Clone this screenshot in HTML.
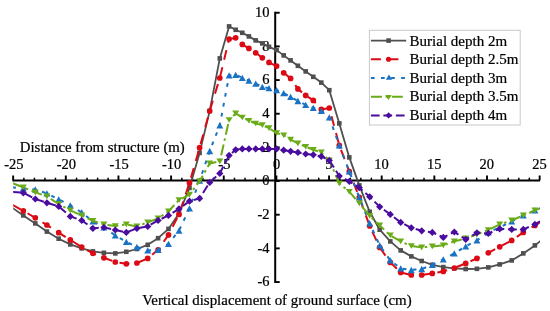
<!DOCTYPE html>
<html><head><meta charset="utf-8"><title>Vertical displacement of ground surface</title>
<style>html,body{margin:0;padding:0;background:#fff}svg{display:block}text{font-family:"Liberation Serif","Times New Roman",serif;font-size:14.5px;fill:#000;stroke:#000;stroke-width:0.22px}</style></head><body>
<svg width="550" height="311" viewBox="0 0 550 311">
<rect width="550" height="311" fill="#fff"/>
<defs><clipPath id="c"><rect x="13.20" y="0" width="526.80" height="311"/></clipPath></defs>
<g text-anchor="middle">
<text x="13.8" y="169">-25</text>
<text x="66.4" y="169">-20</text>
<text x="119.1" y="169">-15</text>
<text x="171.7" y="169">-10</text>
<text x="224.4" y="169">-5</text>
<text x="276.6" y="169">0</text>
<text x="328.9" y="169">5</text>
<text x="381.5" y="169">10</text>
<text x="434.2" y="169">15</text>
<text x="486.8" y="169">20</text>
<text x="539.5" y="169">25</text>
</g>
<g text-anchor="end">
<text x="269.6" y="286.3">-6</text>
<text x="269.6" y="252.7">-4</text>
<text x="269.6" y="219.0">-2</text>
<text x="269.6" y="185.4">0</text>
<text x="269.6" y="151.7">2</text>
<text x="269.6" y="118.0">4</text>
<text x="269.6" y="84.4">6</text>
<text x="269.6" y="50.7">8</text>
<text x="269.6" y="17.1">10</text>
</g>
<text x="19.8" y="152" textLength="165" lengthAdjust="spacingAndGlyphs">Distance from structure (m)</text>
<text x="142.2" y="305" textLength="269.5" lengthAdjust="spacingAndGlyphs">Vertical displacement of ground surface (cm)</text>
<g stroke="#000" fill="none">
<line x1="12.35" y1="180.5" x2="540.15" y2="180.5" stroke-width="2.2"/>
<line x1="275.2" y1="11.8" x2="275.2" y2="283" stroke-width="2"/>
<line x1="13.15" y1="175.5" x2="13.15" y2="180" stroke-width="1.9"/>
<line x1="23.88" y1="177.7" x2="23.88" y2="180" stroke-width="1.5"/>
<line x1="34.41" y1="177.7" x2="34.41" y2="180" stroke-width="1.5"/>
<line x1="44.94" y1="177.7" x2="44.94" y2="180" stroke-width="1.5"/>
<line x1="55.47" y1="177.7" x2="55.47" y2="180" stroke-width="1.5"/>
<line x1="65.80" y1="175.5" x2="65.80" y2="180" stroke-width="1.9"/>
<line x1="76.53" y1="177.7" x2="76.53" y2="180" stroke-width="1.5"/>
<line x1="87.06" y1="177.7" x2="87.06" y2="180" stroke-width="1.5"/>
<line x1="97.59" y1="177.7" x2="97.59" y2="180" stroke-width="1.5"/>
<line x1="108.12" y1="177.7" x2="108.12" y2="180" stroke-width="1.5"/>
<line x1="118.45" y1="175.5" x2="118.45" y2="180" stroke-width="1.9"/>
<line x1="129.18" y1="177.7" x2="129.18" y2="180" stroke-width="1.5"/>
<line x1="139.71" y1="177.7" x2="139.71" y2="180" stroke-width="1.5"/>
<line x1="150.24" y1="177.7" x2="150.24" y2="180" stroke-width="1.5"/>
<line x1="160.77" y1="177.7" x2="160.77" y2="180" stroke-width="1.5"/>
<line x1="171.10" y1="175.5" x2="171.10" y2="180" stroke-width="1.9"/>
<line x1="181.83" y1="177.7" x2="181.83" y2="180" stroke-width="1.5"/>
<line x1="192.36" y1="177.7" x2="192.36" y2="180" stroke-width="1.5"/>
<line x1="202.89" y1="177.7" x2="202.89" y2="180" stroke-width="1.5"/>
<line x1="213.42" y1="177.7" x2="213.42" y2="180" stroke-width="1.5"/>
<line x1="223.75" y1="175.5" x2="223.75" y2="180" stroke-width="1.9"/>
<line x1="234.48" y1="177.7" x2="234.48" y2="180" stroke-width="1.5"/>
<line x1="245.01" y1="177.7" x2="245.01" y2="180" stroke-width="1.5"/>
<line x1="255.54" y1="177.7" x2="255.54" y2="180" stroke-width="1.5"/>
<line x1="266.07" y1="177.7" x2="266.07" y2="180" stroke-width="1.5"/>
<line x1="276.40" y1="175.5" x2="276.40" y2="180" stroke-width="1.9"/>
<line x1="287.13" y1="177.7" x2="287.13" y2="180" stroke-width="1.5"/>
<line x1="297.66" y1="177.7" x2="297.66" y2="180" stroke-width="1.5"/>
<line x1="308.19" y1="177.7" x2="308.19" y2="180" stroke-width="1.5"/>
<line x1="318.72" y1="177.7" x2="318.72" y2="180" stroke-width="1.5"/>
<line x1="329.05" y1="175.5" x2="329.05" y2="180" stroke-width="1.9"/>
<line x1="339.78" y1="177.7" x2="339.78" y2="180" stroke-width="1.5"/>
<line x1="350.31" y1="177.7" x2="350.31" y2="180" stroke-width="1.5"/>
<line x1="360.84" y1="177.7" x2="360.84" y2="180" stroke-width="1.5"/>
<line x1="371.37" y1="177.7" x2="371.37" y2="180" stroke-width="1.5"/>
<line x1="381.70" y1="175.5" x2="381.70" y2="180" stroke-width="1.9"/>
<line x1="392.43" y1="177.7" x2="392.43" y2="180" stroke-width="1.5"/>
<line x1="402.96" y1="177.7" x2="402.96" y2="180" stroke-width="1.5"/>
<line x1="413.49" y1="177.7" x2="413.49" y2="180" stroke-width="1.5"/>
<line x1="424.02" y1="177.7" x2="424.02" y2="180" stroke-width="1.5"/>
<line x1="434.35" y1="175.5" x2="434.35" y2="180" stroke-width="1.9"/>
<line x1="445.08" y1="177.7" x2="445.08" y2="180" stroke-width="1.5"/>
<line x1="455.61" y1="177.7" x2="455.61" y2="180" stroke-width="1.5"/>
<line x1="466.14" y1="177.7" x2="466.14" y2="180" stroke-width="1.5"/>
<line x1="476.67" y1="177.7" x2="476.67" y2="180" stroke-width="1.5"/>
<line x1="487.00" y1="175.5" x2="487.00" y2="180" stroke-width="1.9"/>
<line x1="497.73" y1="177.7" x2="497.73" y2="180" stroke-width="1.5"/>
<line x1="508.26" y1="177.7" x2="508.26" y2="180" stroke-width="1.5"/>
<line x1="518.79" y1="177.7" x2="518.79" y2="180" stroke-width="1.5"/>
<line x1="529.32" y1="177.7" x2="529.32" y2="180" stroke-width="1.5"/>
<line x1="539.65" y1="175.5" x2="539.65" y2="180" stroke-width="1.9"/>
<line x1="275.5" y1="282.05" x2="279.7" y2="282.05" stroke-width="1.9"/>
<line x1="275.5" y1="248.37" x2="279.7" y2="248.37" stroke-width="1.9"/>
<line x1="275.5" y1="214.71" x2="279.7" y2="214.71" stroke-width="1.9"/>
<line x1="275.5" y1="181.05" x2="279.7" y2="181.05" stroke-width="1.9"/>
<line x1="275.5" y1="147.39" x2="279.7" y2="147.39" stroke-width="1.9"/>
<line x1="275.5" y1="113.73" x2="279.7" y2="113.73" stroke-width="1.9"/>
<line x1="275.5" y1="80.07" x2="279.7" y2="80.07" stroke-width="1.9"/>
<line x1="275.5" y1="46.41" x2="279.7" y2="46.41" stroke-width="1.9"/>
<line x1="275.5" y1="12.75" x2="279.7" y2="12.75" stroke-width="1.9"/>
</g>
<g clip-path="url(#c)">
<polyline points="12.2,207.7 23.3,215.4 35.3,223.4 46.9,231.6 58.7,238.7 70.3,244.4 81.7,248.4 92.9,251.4 103.9,252.8 115.3,253.4 126.3,251.8 136.9,249.0 147.7,244.8 158.1,238.2 168.5,228.9 179.0,213.4 189.5,187.9 199.6,152.9 209.7,110.9 219.8,58.4 229.1,26.4 235.7,29.8 242.3,32.8 248.9,36.4 255.7,40.4 262.3,43.4 269.0,46.8 276.6,50.1 283.7,55.4 290.6,60.4 297.9,65.8 305.7,71.4 313.3,76.8 321.3,82.6 329.3,90.2 339.3,123.4 349.3,157.4 359.3,185.4 369.7,211.8 379.7,229.7 390.3,241.4 400.7,250.4 411.3,256.4 421.7,261.0 432.3,264.8 443.3,267.1 454.3,268.4 465.7,269.0 476.9,268.8 488.3,267.4 499.7,264.4 511.7,260.4 523.3,253.4 534.9,245.4 541.0,240.7" fill="none" stroke="#4f4f4f" stroke-width="1.8" stroke-linejoin="round"/>
<rect x="21.00" y="213.10" width="4.60" height="4.60" fill="#4f4f4f"/>
<rect x="33.00" y="221.10" width="4.60" height="4.60" fill="#4f4f4f"/>
<rect x="44.60" y="229.30" width="4.60" height="4.60" fill="#4f4f4f"/>
<rect x="56.40" y="236.40" width="4.60" height="4.60" fill="#4f4f4f"/>
<rect x="68.00" y="242.10" width="4.60" height="4.60" fill="#4f4f4f"/>
<rect x="79.40" y="246.10" width="4.60" height="4.60" fill="#4f4f4f"/>
<rect x="90.60" y="249.10" width="4.60" height="4.60" fill="#4f4f4f"/>
<rect x="101.60" y="250.50" width="4.60" height="4.60" fill="#4f4f4f"/>
<rect x="113.00" y="251.10" width="4.60" height="4.60" fill="#4f4f4f"/>
<rect x="124.00" y="249.50" width="4.60" height="4.60" fill="#4f4f4f"/>
<rect x="134.60" y="246.70" width="4.60" height="4.60" fill="#4f4f4f"/>
<rect x="145.40" y="242.50" width="4.60" height="4.60" fill="#4f4f4f"/>
<rect x="155.80" y="235.90" width="4.60" height="4.60" fill="#4f4f4f"/>
<rect x="166.20" y="226.60" width="4.60" height="4.60" fill="#4f4f4f"/>
<rect x="176.70" y="211.10" width="4.60" height="4.60" fill="#4f4f4f"/>
<rect x="187.20" y="185.60" width="4.60" height="4.60" fill="#4f4f4f"/>
<rect x="197.30" y="150.60" width="4.60" height="4.60" fill="#4f4f4f"/>
<rect x="207.40" y="108.60" width="4.60" height="4.60" fill="#4f4f4f"/>
<rect x="217.50" y="56.10" width="4.60" height="4.60" fill="#4f4f4f"/>
<rect x="226.80" y="24.10" width="4.60" height="4.60" fill="#4f4f4f"/>
<rect x="233.40" y="27.50" width="4.60" height="4.60" fill="#4f4f4f"/>
<rect x="240.00" y="30.50" width="4.60" height="4.60" fill="#4f4f4f"/>
<rect x="246.60" y="34.10" width="4.60" height="4.60" fill="#4f4f4f"/>
<rect x="253.40" y="38.10" width="4.60" height="4.60" fill="#4f4f4f"/>
<rect x="260.00" y="41.10" width="4.60" height="4.60" fill="#4f4f4f"/>
<rect x="266.70" y="44.50" width="4.60" height="4.60" fill="#4f4f4f"/>
<rect x="274.30" y="47.80" width="4.60" height="4.60" fill="#4f4f4f"/>
<rect x="281.40" y="53.10" width="4.60" height="4.60" fill="#4f4f4f"/>
<rect x="288.30" y="58.10" width="4.60" height="4.60" fill="#4f4f4f"/>
<rect x="295.60" y="63.50" width="4.60" height="4.60" fill="#4f4f4f"/>
<rect x="303.40" y="69.10" width="4.60" height="4.60" fill="#4f4f4f"/>
<rect x="311.00" y="74.50" width="4.60" height="4.60" fill="#4f4f4f"/>
<rect x="319.00" y="80.30" width="4.60" height="4.60" fill="#4f4f4f"/>
<rect x="327.00" y="87.90" width="4.60" height="4.60" fill="#4f4f4f"/>
<rect x="337.00" y="121.10" width="4.60" height="4.60" fill="#4f4f4f"/>
<rect x="347.00" y="155.10" width="4.60" height="4.60" fill="#4f4f4f"/>
<rect x="357.00" y="183.10" width="4.60" height="4.60" fill="#4f4f4f"/>
<rect x="367.40" y="209.50" width="4.60" height="4.60" fill="#4f4f4f"/>
<rect x="377.40" y="227.40" width="4.60" height="4.60" fill="#4f4f4f"/>
<rect x="388.00" y="239.10" width="4.60" height="4.60" fill="#4f4f4f"/>
<rect x="398.40" y="248.10" width="4.60" height="4.60" fill="#4f4f4f"/>
<rect x="409.00" y="254.10" width="4.60" height="4.60" fill="#4f4f4f"/>
<rect x="419.40" y="258.70" width="4.60" height="4.60" fill="#4f4f4f"/>
<rect x="430.00" y="262.50" width="4.60" height="4.60" fill="#4f4f4f"/>
<rect x="441.00" y="264.80" width="4.60" height="4.60" fill="#4f4f4f"/>
<rect x="452.00" y="266.10" width="4.60" height="4.60" fill="#4f4f4f"/>
<rect x="463.40" y="266.70" width="4.60" height="4.60" fill="#4f4f4f"/>
<rect x="474.60" y="266.50" width="4.60" height="4.60" fill="#4f4f4f"/>
<rect x="486.00" y="265.10" width="4.60" height="4.60" fill="#4f4f4f"/>
<rect x="497.40" y="262.10" width="4.60" height="4.60" fill="#4f4f4f"/>
<rect x="509.40" y="258.10" width="4.60" height="4.60" fill="#4f4f4f"/>
<rect x="521.00" y="251.10" width="4.60" height="4.60" fill="#4f4f4f"/>
<rect x="532.60" y="243.10" width="4.60" height="4.60" fill="#4f4f4f"/>
<polyline points="12.2,204.8 23.3,210.8 35.3,217.8 46.9,225.0 58.7,232.7 70.3,239.9 81.7,247.0 92.9,253.4 103.9,257.8 115.3,262.0 126.3,263.8 136.9,263.0 147.7,258.4 158.1,249.8 168.5,234.9 179.0,214.4 189.5,182.9 199.6,147.7 209.7,111.0 219.8,78.0 229.1,39.0 235.7,37.8 242.3,44.4 248.9,48.4 255.7,52.8 262.3,57.8 269.0,62.4 276.6,66.1 283.7,72.8 290.6,78.4 297.9,88.9 305.7,95.4 313.3,100.4 321.3,109.4 329.3,108.0 339.3,145.4 349.3,171.7 359.3,197.4 369.7,226.0 379.7,247.4 390.3,262.4 400.7,272.4 411.3,275.0 421.7,275.0 432.3,273.4 443.3,271.4 454.3,268.0 465.7,263.4 476.9,258.4 488.3,252.8 499.7,246.8 511.7,240.4 523.3,232.4 534.9,225.4 541.0,221.8" fill="none" stroke="#dc0a14" stroke-width="2.0" stroke-dasharray="10 7.5" stroke-linejoin="round"/>
<circle cx="23.30" cy="210.80" r="2.85" fill="#dc0a14"/>
<circle cx="35.30" cy="217.80" r="2.85" fill="#dc0a14"/>
<circle cx="46.90" cy="225.00" r="2.85" fill="#dc0a14"/>
<circle cx="58.70" cy="232.70" r="2.85" fill="#dc0a14"/>
<circle cx="70.30" cy="239.90" r="2.85" fill="#dc0a14"/>
<circle cx="81.70" cy="247.00" r="2.85" fill="#dc0a14"/>
<circle cx="92.90" cy="253.40" r="2.85" fill="#dc0a14"/>
<circle cx="103.90" cy="257.80" r="2.85" fill="#dc0a14"/>
<circle cx="115.30" cy="262.00" r="2.85" fill="#dc0a14"/>
<circle cx="126.30" cy="263.80" r="2.85" fill="#dc0a14"/>
<circle cx="136.90" cy="263.00" r="2.85" fill="#dc0a14"/>
<circle cx="147.70" cy="258.40" r="2.85" fill="#dc0a14"/>
<circle cx="158.10" cy="249.80" r="2.85" fill="#dc0a14"/>
<circle cx="168.50" cy="234.90" r="2.85" fill="#dc0a14"/>
<circle cx="179.00" cy="214.40" r="2.85" fill="#dc0a14"/>
<circle cx="189.50" cy="182.90" r="2.85" fill="#dc0a14"/>
<circle cx="199.60" cy="147.70" r="2.85" fill="#dc0a14"/>
<circle cx="209.70" cy="111.00" r="2.85" fill="#dc0a14"/>
<circle cx="219.80" cy="78.00" r="2.85" fill="#dc0a14"/>
<circle cx="229.10" cy="39.00" r="2.85" fill="#dc0a14"/>
<circle cx="235.70" cy="37.80" r="2.85" fill="#dc0a14"/>
<circle cx="242.30" cy="44.40" r="2.85" fill="#dc0a14"/>
<circle cx="248.90" cy="48.40" r="2.85" fill="#dc0a14"/>
<circle cx="255.70" cy="52.80" r="2.85" fill="#dc0a14"/>
<circle cx="262.30" cy="57.80" r="2.85" fill="#dc0a14"/>
<circle cx="269.00" cy="62.40" r="2.85" fill="#dc0a14"/>
<circle cx="276.60" cy="66.10" r="2.85" fill="#dc0a14"/>
<circle cx="283.70" cy="72.80" r="2.85" fill="#dc0a14"/>
<circle cx="290.60" cy="78.40" r="2.85" fill="#dc0a14"/>
<circle cx="297.90" cy="88.90" r="2.85" fill="#dc0a14"/>
<circle cx="305.70" cy="95.40" r="2.85" fill="#dc0a14"/>
<circle cx="313.30" cy="100.40" r="2.85" fill="#dc0a14"/>
<circle cx="321.30" cy="109.40" r="2.85" fill="#dc0a14"/>
<circle cx="329.30" cy="108.00" r="2.85" fill="#dc0a14"/>
<circle cx="339.30" cy="145.40" r="2.85" fill="#dc0a14"/>
<circle cx="349.30" cy="171.70" r="2.85" fill="#dc0a14"/>
<circle cx="359.30" cy="197.40" r="2.85" fill="#dc0a14"/>
<circle cx="369.70" cy="226.00" r="2.85" fill="#dc0a14"/>
<circle cx="379.70" cy="247.40" r="2.85" fill="#dc0a14"/>
<circle cx="390.30" cy="262.40" r="2.85" fill="#dc0a14"/>
<circle cx="400.70" cy="272.40" r="2.85" fill="#dc0a14"/>
<circle cx="411.30" cy="275.00" r="2.85" fill="#dc0a14"/>
<circle cx="421.70" cy="275.00" r="2.85" fill="#dc0a14"/>
<circle cx="432.30" cy="273.40" r="2.85" fill="#dc0a14"/>
<circle cx="443.30" cy="271.40" r="2.85" fill="#dc0a14"/>
<circle cx="454.30" cy="268.00" r="2.85" fill="#dc0a14"/>
<circle cx="465.70" cy="263.40" r="2.85" fill="#dc0a14"/>
<circle cx="476.90" cy="258.40" r="2.85" fill="#dc0a14"/>
<circle cx="488.30" cy="252.80" r="2.85" fill="#dc0a14"/>
<circle cx="499.70" cy="246.80" r="2.85" fill="#dc0a14"/>
<circle cx="511.70" cy="240.40" r="2.85" fill="#dc0a14"/>
<circle cx="523.30" cy="232.40" r="2.85" fill="#dc0a14"/>
<circle cx="534.90" cy="225.40" r="2.85" fill="#dc0a14"/>
<polyline points="12.2,187.3 23.3,188.4 35.3,189.4 46.9,193.4 58.7,199.4 70.3,205.4 81.7,212.4 92.9,221.4 103.9,227.4 115.3,235.4 126.3,241.8 136.9,247.0 147.7,250.4 158.1,249.8 168.5,243.8 179.0,230.6 189.5,208.4 199.6,180.6 209.7,151.0 219.8,125.3 229.1,75.4 235.7,74.8 242.3,77.8 248.9,80.6 255.7,83.7 262.3,86.9 269.0,88.2 276.6,90.1 283.7,93.2 290.6,96.8 297.9,101.0 305.7,104.8 313.3,107.8 321.3,110.8 329.3,117.4 339.3,145.4 349.3,171.4 359.3,197.4 369.7,223.4 379.7,245.4 390.3,260.4 400.7,268.4 411.3,270.0 421.7,269.0 432.3,264.8 443.3,259.4 454.3,253.4 465.7,246.4 476.9,240.4 488.3,232.4 499.7,227.4 511.7,221.4 523.3,215.4 534.9,210.4 541.0,208.0" fill="none" stroke="#1a72c4" stroke-width="2.0" stroke-dasharray="3.7 6.4" stroke-linejoin="round"/>
<path d="M19.80 191.55L26.80 191.55L23.30 185.25Z" fill="#1a72c4"/>
<path d="M31.80 192.55L38.80 192.55L35.30 186.25Z" fill="#1a72c4"/>
<path d="M43.40 196.55L50.40 196.55L46.90 190.25Z" fill="#1a72c4"/>
<path d="M55.20 202.55L62.20 202.55L58.70 196.25Z" fill="#1a72c4"/>
<path d="M66.80 208.55L73.80 208.55L70.30 202.25Z" fill="#1a72c4"/>
<path d="M78.20 215.55L85.20 215.55L81.70 209.25Z" fill="#1a72c4"/>
<path d="M89.40 224.55L96.40 224.55L92.90 218.25Z" fill="#1a72c4"/>
<path d="M100.40 230.55L107.40 230.55L103.90 224.25Z" fill="#1a72c4"/>
<path d="M111.80 238.55L118.80 238.55L115.30 232.25Z" fill="#1a72c4"/>
<path d="M122.80 244.95L129.80 244.95L126.30 238.65Z" fill="#1a72c4"/>
<path d="M133.40 250.15L140.40 250.15L136.90 243.85Z" fill="#1a72c4"/>
<path d="M144.20 253.55L151.20 253.55L147.70 247.25Z" fill="#1a72c4"/>
<path d="M154.60 252.95L161.60 252.95L158.10 246.65Z" fill="#1a72c4"/>
<path d="M165.00 246.95L172.00 246.95L168.50 240.65Z" fill="#1a72c4"/>
<path d="M175.50 233.75L182.50 233.75L179.00 227.45Z" fill="#1a72c4"/>
<path d="M186.00 211.55L193.00 211.55L189.50 205.25Z" fill="#1a72c4"/>
<path d="M196.10 183.75L203.10 183.75L199.60 177.45Z" fill="#1a72c4"/>
<path d="M206.20 154.15L213.20 154.15L209.70 147.85Z" fill="#1a72c4"/>
<path d="M216.30 128.45L223.30 128.45L219.80 122.15Z" fill="#1a72c4"/>
<path d="M225.60 78.55L232.60 78.55L229.10 72.25Z" fill="#1a72c4"/>
<path d="M232.20 77.95L239.20 77.95L235.70 71.65Z" fill="#1a72c4"/>
<path d="M238.80 80.95L245.80 80.95L242.30 74.65Z" fill="#1a72c4"/>
<path d="M245.40 83.75L252.40 83.75L248.90 77.45Z" fill="#1a72c4"/>
<path d="M252.20 86.85L259.20 86.85L255.70 80.55Z" fill="#1a72c4"/>
<path d="M258.80 90.05L265.80 90.05L262.30 83.75Z" fill="#1a72c4"/>
<path d="M265.50 91.35L272.50 91.35L269.00 85.05Z" fill="#1a72c4"/>
<path d="M273.10 93.25L280.10 93.25L276.60 86.95Z" fill="#1a72c4"/>
<path d="M280.20 96.35L287.20 96.35L283.70 90.05Z" fill="#1a72c4"/>
<path d="M287.10 99.95L294.10 99.95L290.60 93.65Z" fill="#1a72c4"/>
<path d="M294.40 104.15L301.40 104.15L297.90 97.85Z" fill="#1a72c4"/>
<path d="M302.20 107.95L309.20 107.95L305.70 101.65Z" fill="#1a72c4"/>
<path d="M309.80 110.95L316.80 110.95L313.30 104.65Z" fill="#1a72c4"/>
<path d="M317.80 113.95L324.80 113.95L321.30 107.65Z" fill="#1a72c4"/>
<path d="M325.80 120.55L332.80 120.55L329.30 114.25Z" fill="#1a72c4"/>
<path d="M335.80 148.55L342.80 148.55L339.30 142.25Z" fill="#1a72c4"/>
<path d="M345.80 174.55L352.80 174.55L349.30 168.25Z" fill="#1a72c4"/>
<path d="M355.80 200.55L362.80 200.55L359.30 194.25Z" fill="#1a72c4"/>
<path d="M366.20 226.55L373.20 226.55L369.70 220.25Z" fill="#1a72c4"/>
<path d="M376.20 248.55L383.20 248.55L379.70 242.25Z" fill="#1a72c4"/>
<path d="M386.80 263.55L393.80 263.55L390.30 257.25Z" fill="#1a72c4"/>
<path d="M397.20 271.55L404.20 271.55L400.70 265.25Z" fill="#1a72c4"/>
<path d="M407.80 273.15L414.80 273.15L411.30 266.85Z" fill="#1a72c4"/>
<path d="M418.20 272.15L425.20 272.15L421.70 265.85Z" fill="#1a72c4"/>
<path d="M428.80 267.95L435.80 267.95L432.30 261.65Z" fill="#1a72c4"/>
<path d="M439.80 262.55L446.80 262.55L443.30 256.25Z" fill="#1a72c4"/>
<path d="M450.80 256.55L457.80 256.55L454.30 250.25Z" fill="#1a72c4"/>
<path d="M462.20 249.55L469.20 249.55L465.70 243.25Z" fill="#1a72c4"/>
<path d="M473.40 243.55L480.40 243.55L476.90 237.25Z" fill="#1a72c4"/>
<path d="M484.80 235.55L491.80 235.55L488.30 229.25Z" fill="#1a72c4"/>
<path d="M496.20 230.55L503.20 230.55L499.70 224.25Z" fill="#1a72c4"/>
<path d="M508.20 224.55L515.20 224.55L511.70 218.25Z" fill="#1a72c4"/>
<path d="M519.80 218.55L526.80 218.55L523.30 212.25Z" fill="#1a72c4"/>
<path d="M531.40 213.55L538.40 213.55L534.90 207.25Z" fill="#1a72c4"/>
<polyline points="12.2,183.0 23.3,187.4 35.3,192.4 46.9,196.4 58.7,204.0 70.3,210.4 81.7,215.4 92.9,220.8 103.9,224.4 115.3,226.0 126.3,224.4 136.9,226.4 147.7,222.4 158.1,218.4 168.5,211.4 179.0,200.0 189.5,194.6 199.6,181.1 209.7,163.4 219.8,161.4 229.1,120.0 235.7,113.4 242.3,117.5 248.9,120.7 255.7,123.5 262.3,125.1 269.0,128.1 276.6,133.1 283.7,135.3 290.6,139.6 297.9,143.4 305.7,146.8 313.3,149.8 321.3,152.4 329.3,160.4 339.3,183.4 349.3,191.7 359.3,203.4 369.7,215.9 379.7,225.4 390.3,235.4 400.7,241.4 411.3,246.0 421.7,247.4 432.3,246.4 443.3,245.4 454.3,241.4 465.7,238.4 476.9,234.4 488.3,230.0 499.7,224.4 511.7,220.4 523.3,215.4 534.9,210.4 541.0,208.0" fill="none" stroke="#6aab18" stroke-width="2.0" stroke-dasharray="11 3.7 2.5 3.7" stroke-linejoin="round"/>
<path d="M19.80 184.60L26.80 184.60L23.30 190.20Z" fill="#6aab18"/>
<path d="M31.80 189.60L38.80 189.60L35.30 195.20Z" fill="#6aab18"/>
<path d="M43.40 193.60L50.40 193.60L46.90 199.20Z" fill="#6aab18"/>
<path d="M55.20 201.20L62.20 201.20L58.70 206.80Z" fill="#6aab18"/>
<path d="M66.80 207.60L73.80 207.60L70.30 213.20Z" fill="#6aab18"/>
<path d="M78.20 212.60L85.20 212.60L81.70 218.20Z" fill="#6aab18"/>
<path d="M89.40 218.00L96.40 218.00L92.90 223.60Z" fill="#6aab18"/>
<path d="M100.40 221.60L107.40 221.60L103.90 227.20Z" fill="#6aab18"/>
<path d="M111.80 223.20L118.80 223.20L115.30 228.80Z" fill="#6aab18"/>
<path d="M122.80 221.60L129.80 221.60L126.30 227.20Z" fill="#6aab18"/>
<path d="M133.40 223.60L140.40 223.60L136.90 229.20Z" fill="#6aab18"/>
<path d="M144.20 219.60L151.20 219.60L147.70 225.20Z" fill="#6aab18"/>
<path d="M154.60 215.60L161.60 215.60L158.10 221.20Z" fill="#6aab18"/>
<path d="M165.00 208.60L172.00 208.60L168.50 214.20Z" fill="#6aab18"/>
<path d="M175.50 197.20L182.50 197.20L179.00 202.80Z" fill="#6aab18"/>
<path d="M186.00 191.80L193.00 191.80L189.50 197.40Z" fill="#6aab18"/>
<path d="M196.10 178.30L203.10 178.30L199.60 183.90Z" fill="#6aab18"/>
<path d="M206.20 160.60L213.20 160.60L209.70 166.20Z" fill="#6aab18"/>
<path d="M216.30 158.60L223.30 158.60L219.80 164.20Z" fill="#6aab18"/>
<path d="M225.60 117.20L232.60 117.20L229.10 122.80Z" fill="#6aab18"/>
<path d="M232.20 110.60L239.20 110.60L235.70 116.20Z" fill="#6aab18"/>
<path d="M238.80 114.70L245.80 114.70L242.30 120.30Z" fill="#6aab18"/>
<path d="M245.40 117.90L252.40 117.90L248.90 123.50Z" fill="#6aab18"/>
<path d="M252.20 120.70L259.20 120.70L255.70 126.30Z" fill="#6aab18"/>
<path d="M258.80 122.30L265.80 122.30L262.30 127.90Z" fill="#6aab18"/>
<path d="M265.50 125.30L272.50 125.30L269.00 130.90Z" fill="#6aab18"/>
<path d="M273.10 130.30L280.10 130.30L276.60 135.90Z" fill="#6aab18"/>
<path d="M280.20 132.50L287.20 132.50L283.70 138.10Z" fill="#6aab18"/>
<path d="M287.10 136.80L294.10 136.80L290.60 142.40Z" fill="#6aab18"/>
<path d="M294.40 140.60L301.40 140.60L297.90 146.20Z" fill="#6aab18"/>
<path d="M302.20 144.00L309.20 144.00L305.70 149.60Z" fill="#6aab18"/>
<path d="M309.80 147.00L316.80 147.00L313.30 152.60Z" fill="#6aab18"/>
<path d="M317.80 149.60L324.80 149.60L321.30 155.20Z" fill="#6aab18"/>
<path d="M325.80 157.60L332.80 157.60L329.30 163.20Z" fill="#6aab18"/>
<path d="M335.80 180.60L342.80 180.60L339.30 186.20Z" fill="#6aab18"/>
<path d="M345.80 188.90L352.80 188.90L349.30 194.50Z" fill="#6aab18"/>
<path d="M355.80 200.60L362.80 200.60L359.30 206.20Z" fill="#6aab18"/>
<path d="M366.20 213.10L373.20 213.10L369.70 218.70Z" fill="#6aab18"/>
<path d="M376.20 222.60L383.20 222.60L379.70 228.20Z" fill="#6aab18"/>
<path d="M386.80 232.60L393.80 232.60L390.30 238.20Z" fill="#6aab18"/>
<path d="M397.20 238.60L404.20 238.60L400.70 244.20Z" fill="#6aab18"/>
<path d="M407.80 243.20L414.80 243.20L411.30 248.80Z" fill="#6aab18"/>
<path d="M418.20 244.60L425.20 244.60L421.70 250.20Z" fill="#6aab18"/>
<path d="M428.80 243.60L435.80 243.60L432.30 249.20Z" fill="#6aab18"/>
<path d="M439.80 242.60L446.80 242.60L443.30 248.20Z" fill="#6aab18"/>
<path d="M450.80 238.60L457.80 238.60L454.30 244.20Z" fill="#6aab18"/>
<path d="M462.20 235.60L469.20 235.60L465.70 241.20Z" fill="#6aab18"/>
<path d="M473.40 231.60L480.40 231.60L476.90 237.20Z" fill="#6aab18"/>
<path d="M484.80 227.20L491.80 227.20L488.30 232.80Z" fill="#6aab18"/>
<path d="M496.20 221.60L503.20 221.60L499.70 227.20Z" fill="#6aab18"/>
<path d="M508.20 217.60L515.20 217.60L511.70 223.20Z" fill="#6aab18"/>
<path d="M519.80 212.60L526.80 212.60L523.30 218.20Z" fill="#6aab18"/>
<path d="M531.40 207.60L538.40 207.60L534.90 213.20Z" fill="#6aab18"/>
<polyline points="12.2,191.9 23.3,192.8 35.3,199.0 46.9,202.8 58.7,206.4 70.3,216.4 81.7,220.4 92.9,228.4 103.9,227.4 115.3,230.0 126.3,232.4 136.9,228.4 147.7,226.4 158.1,220.4 168.5,215.4 179.0,208.8 189.5,201.2 199.6,198.4 209.7,182.4 219.8,173.4 229.1,155.4 235.7,149.8 242.3,148.9 248.9,148.9 255.7,148.9 262.3,148.9 269.0,148.9 276.6,148.9 283.7,150.2 290.6,151.3 297.9,152.4 305.7,154.0 313.3,154.8 321.3,156.4 329.3,160.4 339.3,176.0 349.3,181.4 359.3,187.7 369.7,196.8 379.7,206.8 390.3,214.4 400.7,222.4 411.3,227.8 421.7,230.8 432.3,232.4 443.3,237.4 454.3,232.0 465.7,239.4 476.9,232.8 488.3,233.4 499.7,228.8 511.7,229.4 523.3,229.4 534.9,224.4 541.0,220.8" fill="none" stroke="#4a0c9e" stroke-width="2.0" stroke-dasharray="8.7 3.8" stroke-linejoin="round"/>
<path d="M19.70 192.80L23.30 189.20L26.90 192.80L23.30 196.40Z" fill="#4a0c9e"/>
<path d="M31.70 199.00L35.30 195.40L38.90 199.00L35.30 202.60Z" fill="#4a0c9e"/>
<path d="M43.30 202.80L46.90 199.20L50.50 202.80L46.90 206.40Z" fill="#4a0c9e"/>
<path d="M55.10 206.40L58.70 202.80L62.30 206.40L58.70 210.00Z" fill="#4a0c9e"/>
<path d="M66.70 216.40L70.30 212.80L73.90 216.40L70.30 220.00Z" fill="#4a0c9e"/>
<path d="M78.10 220.40L81.70 216.80L85.30 220.40L81.70 224.00Z" fill="#4a0c9e"/>
<path d="M89.30 228.40L92.90 224.80L96.50 228.40L92.90 232.00Z" fill="#4a0c9e"/>
<path d="M100.30 227.40L103.90 223.80L107.50 227.40L103.90 231.00Z" fill="#4a0c9e"/>
<path d="M111.70 230.00L115.30 226.40L118.90 230.00L115.30 233.60Z" fill="#4a0c9e"/>
<path d="M122.70 232.40L126.30 228.80L129.90 232.40L126.30 236.00Z" fill="#4a0c9e"/>
<path d="M133.30 228.40L136.90 224.80L140.50 228.40L136.90 232.00Z" fill="#4a0c9e"/>
<path d="M144.10 226.40L147.70 222.80L151.30 226.40L147.70 230.00Z" fill="#4a0c9e"/>
<path d="M154.50 220.40L158.10 216.80L161.70 220.40L158.10 224.00Z" fill="#4a0c9e"/>
<path d="M164.90 215.40L168.50 211.80L172.10 215.40L168.50 219.00Z" fill="#4a0c9e"/>
<path d="M175.40 208.80L179.00 205.20L182.60 208.80L179.00 212.40Z" fill="#4a0c9e"/>
<path d="M185.90 201.20L189.50 197.60L193.10 201.20L189.50 204.80Z" fill="#4a0c9e"/>
<path d="M196.00 198.40L199.60 194.80L203.20 198.40L199.60 202.00Z" fill="#4a0c9e"/>
<path d="M206.10 182.40L209.70 178.80L213.30 182.40L209.70 186.00Z" fill="#4a0c9e"/>
<path d="M216.20 173.40L219.80 169.80L223.40 173.40L219.80 177.00Z" fill="#4a0c9e"/>
<path d="M225.50 155.40L229.10 151.80L232.70 155.40L229.10 159.00Z" fill="#4a0c9e"/>
<path d="M232.10 149.80L235.70 146.20L239.30 149.80L235.70 153.40Z" fill="#4a0c9e"/>
<path d="M238.70 148.90L242.30 145.30L245.90 148.90L242.30 152.50Z" fill="#4a0c9e"/>
<path d="M245.30 148.90L248.90 145.30L252.50 148.90L248.90 152.50Z" fill="#4a0c9e"/>
<path d="M252.10 148.90L255.70 145.30L259.30 148.90L255.70 152.50Z" fill="#4a0c9e"/>
<path d="M258.70 148.90L262.30 145.30L265.90 148.90L262.30 152.50Z" fill="#4a0c9e"/>
<path d="M265.40 148.90L269.00 145.30L272.60 148.90L269.00 152.50Z" fill="#4a0c9e"/>
<path d="M273.00 148.90L276.60 145.30L280.20 148.90L276.60 152.50Z" fill="#4a0c9e"/>
<path d="M280.10 150.20L283.70 146.60L287.30 150.20L283.70 153.80Z" fill="#4a0c9e"/>
<path d="M287.00 151.30L290.60 147.70L294.20 151.30L290.60 154.90Z" fill="#4a0c9e"/>
<path d="M294.30 152.40L297.90 148.80L301.50 152.40L297.90 156.00Z" fill="#4a0c9e"/>
<path d="M302.10 154.00L305.70 150.40L309.30 154.00L305.70 157.60Z" fill="#4a0c9e"/>
<path d="M309.70 154.80L313.30 151.20L316.90 154.80L313.30 158.40Z" fill="#4a0c9e"/>
<path d="M317.70 156.40L321.30 152.80L324.90 156.40L321.30 160.00Z" fill="#4a0c9e"/>
<path d="M325.70 160.40L329.30 156.80L332.90 160.40L329.30 164.00Z" fill="#4a0c9e"/>
<path d="M335.70 176.00L339.30 172.40L342.90 176.00L339.30 179.60Z" fill="#4a0c9e"/>
<path d="M345.70 181.40L349.30 177.80L352.90 181.40L349.30 185.00Z" fill="#4a0c9e"/>
<path d="M355.70 187.70L359.30 184.10L362.90 187.70L359.30 191.30Z" fill="#4a0c9e"/>
<path d="M366.10 196.80L369.70 193.20L373.30 196.80L369.70 200.40Z" fill="#4a0c9e"/>
<path d="M376.10 206.80L379.70 203.20L383.30 206.80L379.70 210.40Z" fill="#4a0c9e"/>
<path d="M386.70 214.40L390.30 210.80L393.90 214.40L390.30 218.00Z" fill="#4a0c9e"/>
<path d="M397.10 222.40L400.70 218.80L404.30 222.40L400.70 226.00Z" fill="#4a0c9e"/>
<path d="M407.70 227.80L411.30 224.20L414.90 227.80L411.30 231.40Z" fill="#4a0c9e"/>
<path d="M418.10 230.80L421.70 227.20L425.30 230.80L421.70 234.40Z" fill="#4a0c9e"/>
<path d="M428.70 232.40L432.30 228.80L435.90 232.40L432.30 236.00Z" fill="#4a0c9e"/>
<path d="M439.70 237.40L443.30 233.80L446.90 237.40L443.30 241.00Z" fill="#4a0c9e"/>
<path d="M450.70 232.00L454.30 228.40L457.90 232.00L454.30 235.60Z" fill="#4a0c9e"/>
<path d="M462.10 239.40L465.70 235.80L469.30 239.40L465.70 243.00Z" fill="#4a0c9e"/>
<path d="M473.30 232.80L476.90 229.20L480.50 232.80L476.90 236.40Z" fill="#4a0c9e"/>
<path d="M484.70 233.40L488.30 229.80L491.90 233.40L488.30 237.00Z" fill="#4a0c9e"/>
<path d="M496.10 228.80L499.70 225.20L503.30 228.80L499.70 232.40Z" fill="#4a0c9e"/>
<path d="M508.10 229.40L511.70 225.80L515.30 229.40L511.70 233.00Z" fill="#4a0c9e"/>
<path d="M519.70 229.40L523.30 225.80L526.90 229.40L523.30 233.00Z" fill="#4a0c9e"/>
<path d="M531.30 224.40L534.90 220.80L538.50 224.40L534.90 228.00Z" fill="#4a0c9e"/>
</g>
<rect x="369.4" y="30.3" width="150.8" height="94.7" fill="#fff" stroke="#c9c9c9" stroke-width="1"/>
<line x1="370.9" y1="40.60" x2="406.2" y2="40.60" stroke="#4f4f4f" stroke-width="1.8"/>
<rect x="386.30" y="38.30" width="4.60" height="4.60" fill="#4f4f4f"/>
<text x="409.6" y="45.5" style="font-size:15px">Burial depth 2m</text>
<line x1="370.9" y1="59.20" x2="400.0" y2="59.20" stroke="#dc0a14" stroke-width="2.0" stroke-dasharray="10 7.5"/>
<circle cx="388.50" cy="59.20" r="2.55" fill="#dc0a14"/>
<text x="409.6" y="64.1" style="font-size:15px">Burial depth 2.5m</text>
<line x1="370.9" y1="77.90" x2="406.2" y2="77.90" stroke="#1a72c4" stroke-width="2.0" stroke-dasharray="3.7 6.4"/>
<path d="M385.90 79.80L392.10 79.80L389.00 74.40Z" fill="#1a72c4"/>
<text x="409.6" y="82.8" style="font-size:15px">Burial depth 3m</text>
<line x1="370.9" y1="96.80" x2="406.2" y2="96.80" stroke="#6aab18" stroke-width="2.0" stroke-dasharray="11 3.7 2.5 3.7"/>
<path d="M385.30 95.00L391.70 95.00L388.50 100.00Z" fill="#6aab18"/>
<text x="409.6" y="101.2" style="font-size:15px">Burial depth 3.5m</text>
<line x1="370.9" y1="115.40" x2="406.2" y2="115.40" stroke="#4a0c9e" stroke-width="2.0" stroke-dasharray="8.7 3.8"/>
<path d="M385.40 115.40L388.60 112.20L391.80 115.40L388.60 118.60Z" fill="#4a0c9e"/>
<text x="409.6" y="120.0" style="font-size:15px">Burial depth 4m</text>
</svg></body></html>
